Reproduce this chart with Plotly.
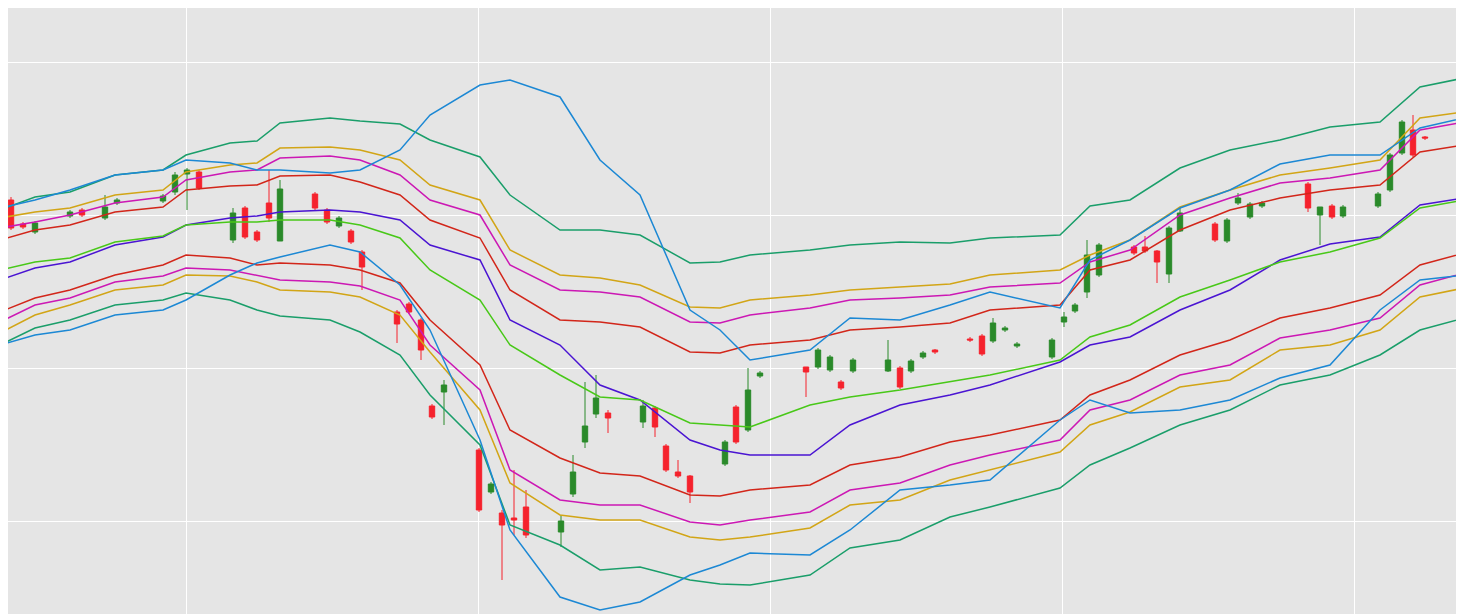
import plotly.graph_objects as go
import numpy as np

# chart readings, measured as screen-row levels (0 = top) then converted to price
def to_price(levels):
    return 140 - np.asarray(levels, dtype=float) / 15.3

t = [0, 35, 70, 115, 163, 186, 230, 257, 280, 330, 360, 400, 430, 480, 510, 560, 600, 640,
     690, 720, 750, 810, 850, 900, 950, 990, 1060, 1090, 1130, 1180, 1230, 1280, 1330, 1380, 1420, 1464]

teal_up = [210,197,192,175,170,155,143,141,123,118,121,124,140,157,195,230,230,235,263,262,255,250,245,242,243,238,235,206,200,168,150,140,127,122,87,78]
gold_up = [218,212,208,195,190,172,165,163,148,147,150,160,185,200,250,275,278,285,307,308,300,295,290,287,284,275,270,255,240,207,190,175,168,160,118,112]
mag_up = [228,222,215,203,197,180,172,170,158,156,160,175,200,215,265,290,292,297,322,323,315,308,300,298,295,287,283,262,250,215,198,183,178,170,130,122]
red_up = [240,230,225,212,207,190,186,185,176,175,182,195,220,238,290,320,322,327,352,353,345,340,330,327,323,310,305,270,260,230,210,198,190,185,152,145]
mid = [280,268,262,245,237,225,218,216,212,210,212,220,245,260,320,345,385,400,440,450,455,455,425,405,395,385,362,345,337,310,290,260,244,237,205,198]
lgreen = [270,262,258,242,236,225,222,222,220,220,225,238,270,300,345,375,397,400,423,425,427,405,397,390,382,375,360,337,325,297,280,262,252,238,208,200]
red_lo = [312,298,290,275,265,255,258,265,263,265,270,283,320,365,430,458,473,476,495,496,490,485,465,457,442,435,420,395,380,355,340,318,308,295,265,253]
mag_lo = [322,305,298,282,276,268,270,275,280,282,286,300,345,390,470,500,505,505,522,525,520,512,490,483,465,455,440,410,400,375,365,338,330,318,285,273]
gold_lo = [333,315,305,290,285,275,276,282,290,292,297,315,352,410,483,515,520,520,537,540,537,528,505,500,480,470,452,425,412,387,380,350,345,330,297,288]
teal_lo = [345,328,320,305,300,293,300,310,316,320,332,355,395,445,525,545,570,567,580,584,585,575,548,540,517,507,488,465,448,425,410,385,375,355,330,318]
blue_up = [208,200,190,175,170,160,163,170,170,173,170,150,115,85,80,97,160,195,310,330,360,350,318,320,305,292,308,260,240,208,190,164,155,155,128,118]
blue_lo = [345,335,330,315,310,300,275,263,257,245,252,285,330,440,530,597,610,602,575,565,553,555,530,490,485,480,420,400,413,410,400,378,365,310,280,275]

# candles: x, body top, body bottom, wick top, wick bottom, up?
cx = [11,23,35,70,82,105,117,163,175,187,199,233,245,257,269,280,315,327,339,351,362,397,409,421,432,444,
      479,491,502,514,526,561,573,585,596,608,643,655,666,678,690,725,736,748,760,806,818,830,841,853,888,900,
      911,923,935,970,982,993,1005,1017,1052,1064,1075,1087,1099,1134,1145,1157,1169,1180,1215,1227,1238,1250,
      1262,1308,1320,1332,1343,1378,1390,1402,1413,1425,1460]
b_top = [200,224,223,212,210,207,200,196,175,170,172,213,208,232,203,189,194,210,218,231,252,312,304,320,406,385,
         450,484,513,518,507,521,472,426,398,413,406,408,446,472,476,442,407,390,373,367,350,357,382,360,360,368,
         361,353,350,339,336,323,328,344,340,317,305,255,245,247,247,251,228,213,224,220,198,204,
         203,184,207,206,207,194,155,122,130,137,134]
b_bot = [228,227,232,216,215,218,203,201,192,174,188,240,237,240,218,241,208,222,226,242,267,324,312,350,417,392,
         510,492,525,520,535,532,494,442,414,418,422,427,470,476,492,464,442,430,376,372,367,370,388,371,371,387,
         371,357,352,340,354,341,330,346,357,322,311,292,275,253,251,262,274,231,240,241,203,217,
         206,208,215,217,216,206,190,153,155,138,140]
w_top = [197,222,221,210,208,195,198,194,172,168,170,208,206,230,170,180,192,208,216,229,250,310,302,318,404,380,
         448,482,510,470,490,515,455,382,375,410,400,406,444,460,475,440,405,368,371,367,348,355,380,358,340,366,
         359,351,349,337,334,318,326,342,338,312,303,240,243,245,236,250,226,208,222,218,193,202,
         201,182,207,204,205,192,153,120,115,136,128]
w_bot = [230,229,234,218,217,220,205,203,195,210,190,243,239,242,222,241,210,224,228,244,290,343,314,360,419,425,
         512,494,580,535,538,547,497,448,418,433,428,437,472,478,503,466,444,432,378,397,369,372,390,373,372,389,
         373,359,354,342,356,343,332,348,359,327,313,298,277,255,253,283,283,232,242,243,205,219,
         208,212,245,219,218,208,192,155,157,140,155]
up = [bool(b) for b in [0,0,1,1,0,1,1,1,1,1,0,1,0,0,0,1,0,0,1,0,0,0,0,0,0,1,
      0,1,0,0,0,1,1,1,1,0,1,0,0,0,0,1,0,1,1,0,1,1,0,1,1,0,
      1,1,0,0,0,1,1,1,1,1,1,1,1,0,0,0,1,1,0,1,1,1,
      1,0,1,0,1,1,1,1,0,0,0]]

top_p, bot_p = to_price(b_top), to_price(b_bot)
opens = np.where(up, bot_p, top_p)
closes = np.where(up, top_p, bot_p)
highs = to_price(w_top)
lows = to_price(w_bot)

fig = go.Figure()

lines = [
    (teal_up, "#1a9e6a"), (gold_up, "#d2a516"), (mag_up, "#cc18b4"), (red_up, "#d2261a"),
    (mid, "#4a14d2"), (lgreen, "#48c818"), (red_lo, "#d2261a"), (mag_lo, "#cc18b4"),
    (gold_lo, "#d2a516"), (teal_lo, "#1a9e6a"), (blue_up, "#1c88d4"), (blue_lo, "#1c88d4"),
]
for vals, col in lines:
    fig.add_trace(go.Scatter(x=t, y=to_price(vals), mode="lines",
                             line=dict(color=col, width=1.5), showlegend=False, hoverinfo="skip"))

fig.add_trace(go.Candlestick(x=cx, open=opens, high=highs, low=lows, close=closes,
                             increasing=dict(line=dict(color="#2a8a2a", width=1), fillcolor="#2a8a2a"),
                             decreasing=dict(line=dict(color="#f5222d", width=1), fillcolor="#f5222d"),
                             whiskerwidth=0, showlegend=False))

# page body has an 8px offset, so the visible window starts 8px into the data
fig.update_layout(
    width=1464, height=614, margin=dict(l=0, r=0, t=0, b=0),
    plot_bgcolor="#e5e5e5", paper_bgcolor="#e5e5e5", showlegend=False,
    xaxis=dict(range=[8, 1472], tick0=186, dtick=292, showticklabels=False,
               gridcolor="white", zeroline=False, rangeslider=dict(visible=False)),
    yaxis=dict(range=[140 - 622 / 15.3, 140 - 8 / 15.3], tick0=136 - 0.1, dtick=10, showticklabels=False,
               gridcolor="white", zeroline=False),
)

fig.write_html("out.html")
